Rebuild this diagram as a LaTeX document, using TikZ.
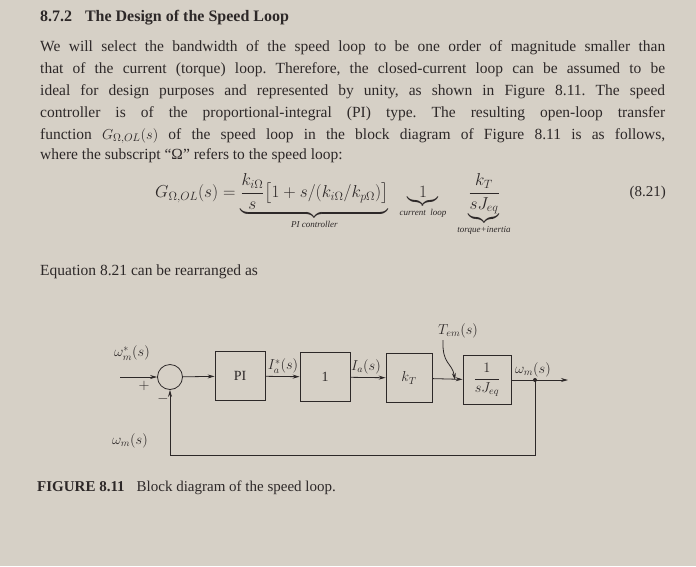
\documentclass[tikz,border=0pt]{standalone}
\usepackage{amsmath}
\usepackage{fontspec}
\setmainfont{Liberation Serif}
\usetikzlibrary{arrows.meta}
\definecolor{paper}{RGB}{214,208,198}
\definecolor{ink}{RGB}{45,40,40}
\newcommand{\jl}[1]{\makebox[625pt][s]{#1}}
\frenchspacing
\begin{document}
\begin{tikzpicture}[x=1pt,y=-1pt,every node/.style={text=ink,inner sep=0pt},
  body/.style={anchor=west,font=\fontsize{15.5}{18}\selectfont\frenchspacing},
  blk/.style={draw=ink,thick,minimum width=50pt,minimum height=49pt,inner sep=0pt,font=\fontsize{14}{16}\selectfont},
  lbl/.style={font=\fontsize{14}{16}\selectfont},
  wire/.style={draw=ink,thick},
  arr/.style={wire,-{Stealth[length=7pt,width=4pt]}}]
\fill[paper] (0,0) rectangle (696,566);
\useasboundingbox (0,0) rectangle (696,566);
\node[body,font=\fontsize{16}{18}\selectfont\bfseries] (h) at (40,18) {8.7.2\hspace{0.8em}The Design of the Speed Loop};
\node[body] (l1) at (40,48) {\jl{We will select the bandwidth of the speed loop to be one order of magnitude smaller than}};
\node[body] (l2) at (40,70) {\jl{that of the current (torque) loop. Therefore, the closed-current loop can be assumed to be}};
\node[body] (l3) at (40,92) {\jl{ideal for design purposes and represented by unity, as shown in Figure 8.11. The speed}};
\node[body] (l4) at (40,114) {\jl{controller is of the proportional-integral (PI) type. The resulting open-loop transfer}};
\node[body] (l5) at (40,136) {\jl{function $G_{\Omega,OL}(s)$ of the speed loop in the block diagram of Figure 8.11 is as follows,}};
\node[body] (l6) at (40,156) {where the subscript “Ω” refers to the speed loop:};
\node[anchor=west,font=\fontsize{16.5}{19}\selectfont] (eq) at (155,205) {$G_{\Omega,OL}(s)=\underbrace{\dfrac{k_{i\Omega}}{s}\bigl[1+s/(k_{i\Omega}/k_{p\Omega})\bigr]}_{\textstyle\textit{\small PI controller}}\ \ \underbrace{\;1\;}_{\textstyle\textit{\small current\ \ loop}}\ \ \underbrace{\dfrac{k_T}{sJ_{eq}}}_{\textstyle\textit{\small torque+inertia}}$};
\node[anchor=east,font=\fontsize{15}{18}\selectfont] (num) at (666,193) {(8.21)};
\node[body] (l7) at (40,272) {Equation 8.21 can be rearranged as};
% block diagram
\node[draw=ink,thick,circle,minimum size=25pt] (sum) at (170,377) {};
\node[blk] (pi) at (240,376) {PI};
\node[blk] (one) at (325,377) {1};
\node[blk,minimum width=46pt] (kt) at (409,378) {$k_T$};
\node[blk,minimum width=48pt] (jeq) at (487,380) {$\dfrac{1}{sJ_{eq}}$};
\coordinate (in) at (120,377);
\coordinate (out) at (568,380);
\coordinate (br) at (535,380);
\coordinate (bot) at (535,455);
\coordinate (botl) at (170,455);
\coordinate (tj) at (455,380);
\coordinate (tt) at (443,340);
\draw[arr] (in) -- (sum);
\draw[arr] (sum) -- (pi);
\draw[arr] (pi) -- (one);
\draw[arr] (one) -- (kt);
\draw[arr] (kt) -- (jeq);
\draw[arr] (jeq) -- (out);
\fill[ink] (br) circle (2pt);
\draw[wire] (br) -- (bot) -- (botl);
\draw[arr] (botl) -- (sum);
\draw[arr] (tt) .. controls (442,365) and (452,362) .. (tj);
\node[lbl] (wr) at (132,353) {$\omega_m^*(s)$};
\node[lbl] (plus) at (144,386) {$+$};
\node[lbl] (minus) at (163,399) {$-$};
\node[lbl] (ias) at (283,366) {$I_a^*(s)$};
\node[lbl] (ia) at (366,367) {$I_a(s)$};
\node[lbl] (wo) at (533,370) {$\omega_m(s)$};
\node[lbl] (tem) at (458,331) {$T_{em}(s)$};
\node[lbl] (wf) at (130,441) {$\omega_m(s)$};
\node[anchor=west,font=\fontsize{15}{18}\selectfont] (cap) at (37,488) {\textbf{FIGURE 8.11}\hspace{0.8em}Block diagram of the speed loop.};
\end{tikzpicture}
\end{document}
